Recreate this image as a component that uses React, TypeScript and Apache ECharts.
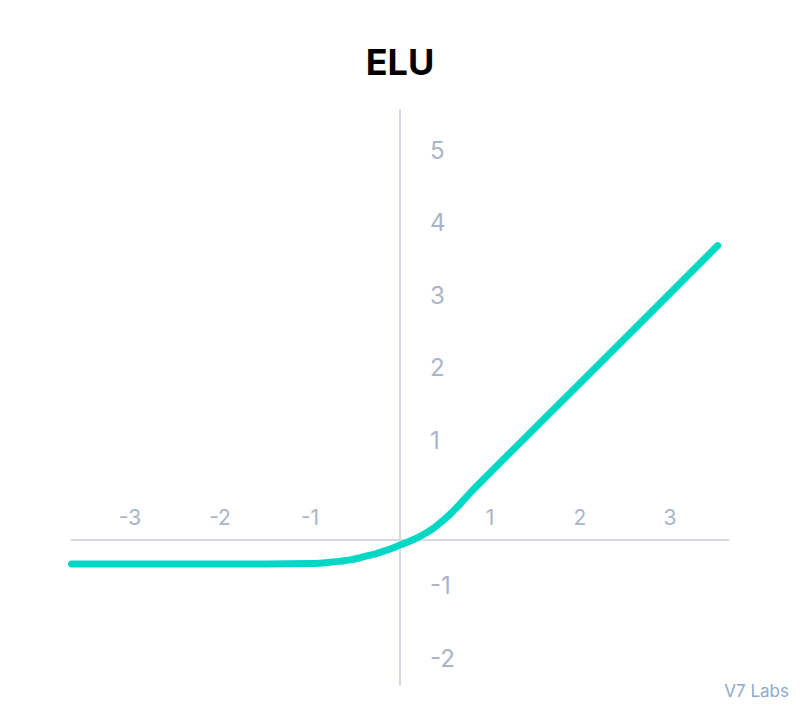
import React, { useEffect, useRef } from "react";
import * as echarts from "echarts";

// Curve samples (x, y) along the ELU-shaped activation line
const curveX = [-3.65, -2.5, -1.5, -1.0, -0.9, -0.8, -0.68, -0.55, -0.46, -0.37, -0.27, -0.17, -0.08, 0, 0.1, 0.19, 0.28, 0.37, 0.46, 0.56, 0.67, 0.78, 1.1, 2.2, 3.53];
const curveY = [-0.33, -0.33, -0.33, -0.325, -0.32, -0.31, -0.295, -0.275, -0.25, -0.22, -0.19, -0.15, -0.11, -0.07, -0.02, 0.03, 0.09, 0.16, 0.25, 0.36, 0.5, 0.65, 1.05, 2.41, 4.06];

// Tick labels shown on each axis (zero is left out where the axes cross)
const xTicks = [-3, -2, -1, 1, 2, 3];
const yTicks = [-2, -1, 1, 2, 3, 4, 5];

const X_MIN = -3.65;
const X_MAX = 3.65;
const Y_MIN = -2;
const Y_MAX = 5.93;

const GRID = { left: 71.5, right: 71.5, top: 110, bottom: 22 };
const WIDTH = 800;
const HEIGHT = 707;

const AXIS_COLOR = "#d3d8e2";
const LABEL_COLOR = "#a9b5c7";
const CURVE_COLOR = "#00d8c5";

export default function App() {
  const ref = useRef<HTMLDivElement>(null);

  useEffect(() => {
    if (!ref.current) return;
    const chart = echarts.init(ref.current, null, { renderer: "svg" });
    const points = curveX.map((x, i) => [x, curveY[i]]);

    // Shift each axis from the grid edge inward to the other axis's zero
    const plotW = WIDTH - GRID.left - GRID.right;
    const plotH = HEIGHT - GRID.top - GRID.bottom;
    const xAxisOffset = -((-Y_MIN) / (Y_MAX - Y_MIN)) * plotH;
    const yAxisOffset = -((-X_MIN) / (X_MAX - X_MIN)) * plotW;

    chart.setOption({
      animation: false,
      backgroundColor: "#ffffff",
      title: {
        text: "ELU",
        left: "center",
        top: 39,
        textStyle: {
          fontFamily: "Inter",
          fontSize: 36,
          fontWeight: "bold",
          color: "#000000",
        },
      },
      grid: { ...GRID, containLabel: false, outerBoundsMode: "none" },
      xAxis: {
        type: "value",
        min: X_MIN,
        max: X_MAX,
        interval: 1,
        position: "bottom",
        offset: xAxisOffset,
        axisLine: { onZero: false, lineStyle: { color: AXIS_COLOR, width: 2 } },
        axisTick: { show: false },
        splitLine: { show: false },
        axisLabel: {
          inside: true,
          margin: 12,
          customValues: xTicks,
          color: LABEL_COLOR,
          fontFamily: "Inter",
          fontSize: 21,
        },
      },
      yAxis: {
        type: "value",
        min: Y_MIN,
        max: Y_MAX,
        interval: 1,
        position: "left",
        offset: yAxisOffset,
        axisLine: { onZero: false, lineStyle: { color: AXIS_COLOR, width: 2 } },
        axisTick: { show: false },
        splitLine: { show: false },
        axisLabel: {
          inside: true,
          margin: 30,
          customValues: yTicks,
          color: LABEL_COLOR,
          fontFamily: "Inter",
          fontSize: 24,
          verticalAlign: "bottom",
          lineHeight: 54,
        },
      },
      graphic: [
        {
          type: "text",
          right: 11,
          bottom: 8,
          style: {
            text: "V7 Labs",
            fill: "#8eaacb",
            font: "17px Inter",
          },
        },
      ],
      series: [
        {
          type: "line",
          data: points,
          smooth: 0.3,
          showSymbol: false,
          symbol: "none",
          lineStyle: { color: CURVE_COLOR, width: 7, cap: "round", join: "round" },
        },
      ],
    });

    return () => chart.dispose();
  }, []);

  return (
    <div
      ref={ref}
      style={{ position: "absolute", left: 0, top: 0, width: WIDTH, height: HEIGHT }}
    />
  );
}
